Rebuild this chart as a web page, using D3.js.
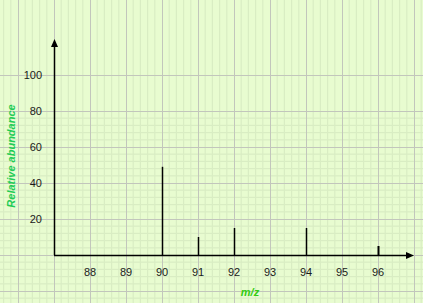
<!DOCTYPE html>
<html><head><meta charset="utf-8">
<script src="https://cdn.jsdelivr.net/npm/d3@7"></script>
<style>body{margin:0;background:#e8fcd0;}svg{display:block;}</style>
</head><body>
<svg id="c" width="423" height="303"></svg>
<script>
const mz = [90, 91, 92, 94, 96];
const abundance = [49, 10, 15, 15, 5];
const xTicks = [88, 89, 90, 91, 92, 93, 94, 95, 96];
const yTicks = [20, 40, 60, 80, 100];

const W = 423, H = 303;
const svg = d3.select("#c");
const x = d3.scaleLinear().domain([87, 97]).range([54, 414]);
const y = d3.scaleLinear().domain([0, 120]).range([255, 39]);

svg.append("rect").attr("width", W).attr("height", H).attr("fill", "#e8fcd0");

// grid
const g = svg.append("g");
const step = 36, minor = 36 / 5;
for (let k = -20; k < 80; k++) {
  const px = 54 + k * minor, py = 255 + k * minor;
  const isMajor = k % 5 === 0;
  if (isMajor) continue;
  if (px >= 0 && px <= W) g.append("line").attr("x1", px).attr("x2", px).attr("y1", 0).attr("y2", H).attr("stroke", "#d9edc3").attr("stroke-width", 1.2);
  if (py >= 0 && py <= H) g.append("line").attr("y1", py).attr("y2", py).attr("x1", 0).attr("x2", W).attr("stroke", "#d9edc3").attr("stroke-width", 1.2);
}
for (let k = -5; k < 15; k++) {
  const px = Math.round(54 + k * step) + 0.5, py = Math.round(255 + k * step) + 0.5;
  if (px >= 0 && px <= W) g.append("line").attr("x1", px).attr("x2", px).attr("y1", 0).attr("y2", H).attr("stroke", "#c2c6bc").attr("stroke-width", 1);
  if (py >= 0 && py <= H) g.append("line").attr("y1", py).attr("y2", py).attr("x1", 0).attr("x2", W).attr("stroke", "#c2c6bc").attr("stroke-width", 1);
}

// bars (sticks)
svg.selectAll("line.stick").data(mz).join("line").attr("class", "stick")
  .attr("x1", d => x(d) + 0.5).attr("x2", d => x(d) + 0.5)
  .attr("y1", y(0)).attr("y2", (d, i) => y(abundance[i]))
  .attr("stroke", "#000").attr("stroke-width", (d, i) => d === 96 ? 2 : 1.5);

// axes
const ax = svg.append("g").attr("stroke", "#000").attr("stroke-width", 1.5);
ax.append("line").attr("x1", x(87)).attr("x2", 408).attr("y1", y(0) + 0.5).attr("y2", y(0) + 0.5);
ax.append("line").attr("x1", x(87) + 0.5).attr("x2", x(87) + 0.5).attr("y1", y(0)).attr("y2", 46);
svg.append("path").attr("d", `M414,${y(0)+0.5} L406,${y(0)-3} L406,${y(0)+4} Z`).attr("fill", "#000");
svg.append("path").attr("d", `M${x(87)+0.5},39 L${x(87)-3},47 L${x(87)+4},47 Z`).attr("fill", "#000");

// tick labels
svg.selectAll("text.xt").data(xTicks).join("text").attr("class", "xt")
  .attr("x", d => x(d)).attr("y", 276).attr("text-anchor", "middle")
  .attr("font-family", "Liberation Sans, Arial, sans-serif").attr("font-size", 11).attr("fill", "#1a1a1a")
  .text(d => d);
svg.selectAll("text.yt").data(yTicks).join("text").attr("class", "yt")
  .attr("x", 42).attr("y", d => y(d) + 4).attr("text-anchor", "end")
  .attr("font-family", "Liberation Sans, Arial, sans-serif").attr("font-size", 11).attr("fill", "#1a1a1a")
  .text(d => d);

// titles
svg.append("text").attr("x", 250).attr("y", 296).attr("text-anchor", "middle")
  .attr("font-family", "Liberation Sans, Arial, sans-serif").attr("font-size", 11)
  .attr("font-style", "italic").attr("font-weight", "bold").attr("fill", "#33cc11").text("m/z");
svg.append("text").attr("transform", "translate(15,156) rotate(-90)").attr("text-anchor", "middle")
  .attr("font-family", "Liberation Sans, Arial, sans-serif").attr("font-size", 11)
  .attr("font-style", "italic").attr("font-weight", "bold").attr("fill", "#22cc55").text("Relative abundance");
</script>
</body></html>
